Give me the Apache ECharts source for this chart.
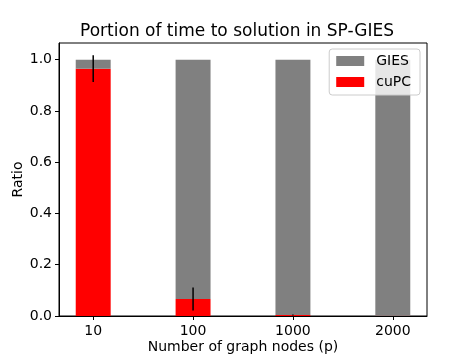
<!DOCTYPE html>
<html>
<head>
<meta charset="utf-8">
<script src="https://cdn.jsdelivr.net/npm/echarts@6/dist/echarts.min.js"></script>
<style>html,body{margin:0;padding:0;background:#fff;}#c{width:474px;height:355px;}</style>
</head>
<body>
<div id="c"></div>
<script>
const categories = ['10', '100', '1000', '2000'];
const cupcValues = [0.965, 0.066, 0.004, 0.0005];
const giesValues = [0.035, 0.934, 0.996, 0.9995];
const cupcErrors = [0.052, 0.045, 0.002, 0.0];
const yTicks = [0, 0.2, 0.4, 0.6, 0.8, 1.0];

const font = 'DejaVu Sans';
const BAR_W = 0.35; // bar width in axis units
const chart = echarts.init(document.getElementById('c'));
const xIdx = categories.map((c, i) => i);

function barRender(params, api) {
  const x = api.value(0);
  const p0 = api.coord([x, api.value(1)]);
  const p1 = api.coord([x, api.value(2)]);
  const w = api.size([BAR_W, 0])[0];
  return {
    type: 'rect',
    shape: { x: p0[0] - w / 2, y: p1[1], width: w, height: p0[1] - p1[1] },
    style: { fill: api.visual('color') }
  };
}

chart.setOption({
  animation: false,
  backgroundColor: '#fff',
  title: {
    text: 'Portion of time to solution in SP-GIES',
    left: 'center', top: 18,
    textStyle: { fontFamily: font, fontSize: 17, fontWeight: 'normal', color: '#000' }
  },
  legend: {
    data: ['GIES', 'cuPC'],
    orient: 'vertical',
    right: 54, top: 49,
    itemWidth: 28, itemHeight: 10, itemGap: 7,
    icon: 'rect',
    backgroundColor: 'rgba(255,255,255,0.8)',
    borderColor: '#cccccc', borderWidth: 1, borderRadius: 3,
    padding: [5, 9, 6, 7],
    textStyle: { fontFamily: font, fontSize: 14, lineHeight: 14, color: '#000', padding: [0, 0, 0, 7] }
  },
  grid: { left: 59, right: 47, top: 43, bottom: 39, show: true, borderColor: '#000', borderWidth: 1, containLabel: false, outerBoundsMode: 'none' },
  xAxis: {
    type: 'value', min: -0.3425, max: 3.3425,
    name: 'Number of graph nodes (p)', nameLocation: 'middle', nameGap: 24, nameMoveOverlap: false,
    nameTextStyle: { fontFamily: font, fontSize: 14, color: '#000' },
    axisLine: { show: true, onZero: false, lineStyle: { color: '#000' } },
    axisTick: { show: true, inside: false, length: 4, customValues: xIdx, lineStyle: { color: '#000' } },
    axisLabel: { customValues: xIdx, formatter: v => categories[Math.round(v)], fontFamily: font, fontSize: 14, color: '#000', margin: 8 },
    splitLine: { show: false }
  },
  yAxis: {
    type: 'value', min: 0, max: 1.065,
    name: 'Ratio', nameLocation: 'middle', nameGap: 34, nameMoveOverlap: false,
    nameTextStyle: { fontFamily: font, fontSize: 14, color: '#000' },
    axisLine: { show: true, onZero: false, lineStyle: { color: '#000' } },
    axisTick: { show: true, inside: false, length: 4, customValues: yTicks, lineStyle: { color: '#000' } },
    axisLabel: { customValues: yTicks, formatter: v => v.toFixed(1), fontFamily: font, fontSize: 14, color: '#000', margin: 7 },
    splitLine: { show: false }
  },
  series: [
    {
      name: 'cuPC', type: 'custom',
      itemStyle: { color: '#ff0000' },
      data: cupcValues.map((v, i) => [i, 0, v]),
      encode: { x: 0, y: [1, 2] },
      renderItem: barRender, z: 2
    },
    {
      name: 'GIES', type: 'custom',
      itemStyle: { color: '#808080' },
      data: giesValues.map((v, i) => [i, cupcValues[i], cupcValues[i] + v]),
      encode: { x: 0, y: [1, 2] },
      renderItem: barRender, z: 2
    },
    {
      name: 'err', type: 'custom', silent: true,
      data: cupcValues.map((v, i) => [i, v - cupcErrors[i], v + cupcErrors[i]]),
      encode: { x: 0, y: [1, 2] },
      renderItem: function (params, api) {
        const lo = api.coord([api.value(0), api.value(1)]);
        const hi = api.coord([api.value(0), api.value(2)]);
        return { type: 'line', shape: { x1: lo[0], y1: lo[1], x2: hi[0], y2: hi[1] }, style: { stroke: '#000', lineWidth: 1.5 } };
      },
      z: 10
    }
  ]
});
</script>
</body>
</html>
